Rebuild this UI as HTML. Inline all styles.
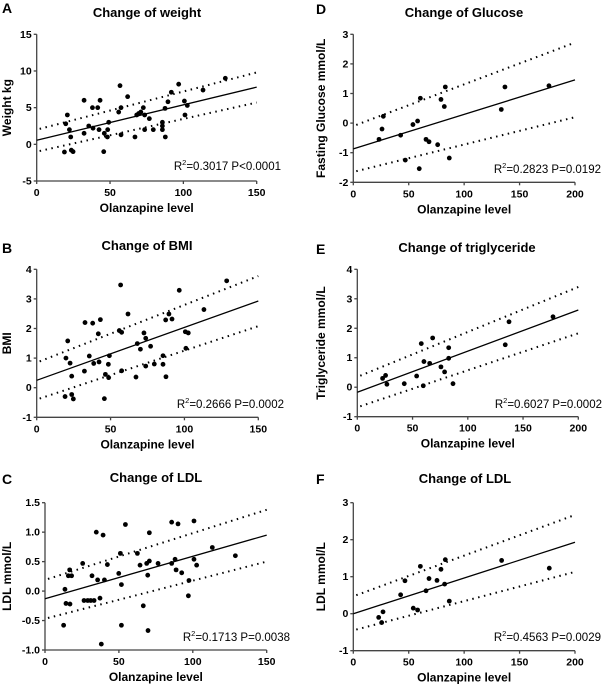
<!DOCTYPE html>
<html><head><meta charset="utf-8"><style>
html,body{margin:0;padding:0;background:#fff;}
svg{display:block;font-family:"Liberation Sans",Arial,sans-serif;}
</style></head><body>
<svg id="fig" width="603" height="685" viewBox="0 0 603 685" xmlns="http://www.w3.org/2000/svg"></svg>
<script>
// ---- Panel A data: weight ----
const aX = [18.9,19.8,20.9,22.3,23.2,23.6,24.8,32.3,32.3,35.5,38,38.4,41.6,42.5,43.2,45.7,46.1,48.2,48.4,49.1,55.9,56.8,57.5,57.5,62,67,68.2,69.5,71,72.7,73.6,73.6,76.8,79.5,85.7,85.7,85.7,87.5,87.7,89.5,91.8,96.8,100.7,101.1,102.7,113.4,128.6];
const aY = [-1.05,2.8,4,2,1,-0.8,-1,6,1.5,2.5,5,2.2,5,2,6,-1,1.5,1,2,3,4.4,8,5,1.3,6.5,1,4,4.2,4.4,5,4,2,3.5,2,3,2.5,2,4.9,1,5.8,7.1,8.2,5.9,4,5.3,7.4,9];
const aFit = [0.55,7.8]; const aUp = [2.0,9.8]; const aLo = [-1.0,5.7];
// ---- Panel B data: BMI ----
const bX = [19.2,19.8,21,22.6,23.7,23.7,24.8,32.3,32.7,35.6,37.9,38.6,41.7,42.2,43.1,45.8,46.5,48.5,48.7,49.2,55.9,56.8,57.5,57.5,61.8,67.2,68.1,70.2,72.6,73.8,73.8,77.1,79.6,85.5,85.5,87.3,87.5,89.5,91.6,96.5,100.6,101,102.6,113.2,128.6];
const bY = [-0.3,1.0,1.58,0.83,0.39,-0.23,-0.38,0.56,2.2,1.07,2.18,0.82,1.82,0.87,2.3,-0.37,0.45,0.79,0.34,1.08,1.93,3.47,1.87,0.57,2.49,0.36,1.49,1.3,1.85,1.67,0.73,1.4,0.8,1.08,0.79,2.29,0.37,2.49,2.32,3.29,1.89,1.33,1.85,2.64,3.61];
const bFit = [0.25,2.93]; const bUp = [0.85,3.77]; const bLo = [-0.4,2.08];
// ---- Panel C data: LDL ----
const cX = [12.6,13.5,14.2,15.8,16.7,16.9,18,25.5,26.4,28.9,30.9,31.8,33.2,34.7,35.6,37.2,38.1,39.3,40.2,42.2,49.9,51,51.7,51.7,54.4,62.5,64.3,66.5,68.8,69.5,69.7,70.6,70.6,76.5,85.7,85.7,88,88.7,90,92.5,97,97.4,100.8,100.8,102.6,113.2,128.8];
const cY = [-0.58,0.03,-0.21,0.26,0.36,-0.22,0.26,0.47,-0.16,-0.16,-0.16,0.26,-0.16,1.0,0.19,-0.12,-0.9,0.95,0.19,0.45,0.3,0.64,0.11,-0.58,1.13,0.64,0.44,-0.25,0.47,0.27,-0.67,0.99,0.51,0.47,0.47,1.17,0.54,0.36,1.14,0.31,-0.08,0.18,1.19,0.54,0.44,0.74,0.6];
const cFit = [-0.13,0.95]; const cUp = [0.19,1.38]; const cLo = [-0.47,0.5];
// ---- Panel D data: glucose ----
const dX = [23.2,25.9,27.1,42.7,46.9,53.8,58,59.5,60.5,65.6,68.3,76.1,79.1,82.1,83,86.6,133.5,136.8,176.5];
const dY = [-0.55,-0.2,0.23,-0.41,-1.25,-0.05,0.07,-1.54,0.84,-0.55,-0.63,-0.73,0.8,0.56,1.22,-1.18,0.46,1.22,1.26];
const dFit = [-0.87,1.46]; const dUp = [-0.1,2.72]; const dLo = [-1.65,0.2];
// ---- Panel E data: triglyceride ----
const eX = [22.9,25.6,26.8,42.5,53.7,57.9,59.7,60.3,65.5,68.2,75.7,79,82.7,82.7,86.6,133.9,137.3,177.1];
const eY = [0.3,0.4,0.1,0.12,0.38,1.48,0.05,0.87,0.81,1.67,0.69,0.52,1.34,0.98,0.12,1.44,2.22,2.39];
const eFit = [-0.17,2.62]; const eUp = [0.35,3.4]; const eLo = [-0.68,1.83];
// ---- Panel F data: LDL ----
const fX = [22.9,25.6,26.8,42.7,46.6,54.1,58,60.5,65.6,68.3,75.5,79.1,82.4,83,86.6,133.8,176.8];
const fY = [-0.1,-0.24,0.05,0.51,0.89,0.15,0.1,1.28,0.62,0.95,0.9,1.2,0.8,1.46,0.34,1.44,1.23];
const fFit = [0,1.93]; const fUp = [0.47,2.67]; const fLo = [-0.45,1.13];
// ---- tick labels ----
const xTicks150 = [0,50,100,150];
const xTicks200 = [0,50,100,150,200];
const aYTicks = [-5,0,5,10,15];
const bYTicks = [-1,0,1,2,3,4];
const cYTicks = ["-1.0","-0.5","0.0","0.5","1.0","1.5"];
const dYTicks = [-2,-1,0,1,2,3];
const eYTicks = [-1,0,1,2,3,4];
const fYTicks = [-1,0,1,2,3];

const NS = "http://www.w3.org/2000/svg";
const svg = document.getElementById('fig');
function mk(tag, attrs, parent, text){
  const e = document.createElementNS(NS, tag);
  for (const k in attrs) e.setAttribute(k, attrs[k]);
  if (text !== undefined) e.textContent = text;
  (parent||svg).appendChild(e); return e;
}
function panel(p){
  const g = mk('g', {});
  
  
  const sx = v => p.x0 + (v - p.xmin) / (p.xmax - p.xmin) * (p.x1 - p.x0);
  const sy = v => p.yb + (v - p.ymin) / (p.ymax - p.ymin) * (p.yt - p.yb);
  let t;
  t = mk('text', {x:p.lx, y:p.ly, 'font-size':14, 'font-weight':'bold'}, g, p.letter);
  
  
  t = mk('text', {x:p.tx, y:p.ty, 'font-size':13, 'font-weight':'bold', 'text-anchor':'middle'}, g, p.title);
  
  
  // axes
  const ax = mk('g', {stroke:'#444', 'stroke-width':1.3, fill:'none'}, g);
  
  
  mk('line', {x1:p.x0, y1:p.yt, x2:p.x0, y2:p.yb}, ax);
  mk('line', {x1:p.x0, y1:p.yb, x2:p.x1, y2:p.yb}, ax);
  p.yticks.forEach(v => {
    const y = sy(parseFloat(v));
    mk('line', {x1:p.x0-3, y1:y, x2:p.x0, y2:y}, ax);
    const tl = mk('text', {x:p.x0-5, y:y+3.5, 'font-size':10.5, 'font-weight':'bold', 'text-anchor':'end'}, g, String(v));
    
    
  });
  p.xticks.forEach(v => {
    const x = sx(v);
    mk('line', {x1:x, y1:p.yb, x2:x, y2:p.yb+3}, ax);
    const tl = mk('text', {x:x, y:p.yb+15, 'font-size':10.5, 'font-weight':'bold', 'text-anchor':'middle'}, g, String(v));
    
    
  });
  t = mk('text', {x:(p.x0+p.x1)/2, y:p.yb+31, 'font-size':12, 'font-weight':'bold', 'text-anchor':'middle'}, g, 'Olanzapine level');
  
  
  const cy = (p.yt+p.yb)/2;
  t = mk('text', {x:p.ylx, y:cy, 'font-size':12, 'font-weight':'bold', 'text-anchor':'middle', transform:'rotate(-90 '+p.ylx+' '+cy+')'}, g, p.ylabel);
  
  
  // CI and fit lines
  const xa = p.xmin + 2*(p.xmax-p.xmin)/150, xb = p.xmax;
  [[p.up,'ci-upper'],[p.lo,'ci-lower']].forEach(([c,n]) => {
    const l = mk('line', {x1:sx(xa), y1:sy(c[0]+(c[1]-c[0])*(xa-p.xmin)/(p.xmax-p.xmin)), x2:sx(xb), y2:sy(c[1]), stroke:'#000', 'stroke-width':2, 'stroke-dasharray':'1.5 4.5', 'stroke-linecap':'butt'}, g);
    
    
  });
  const fl = mk('line', {x1:sx(p.xmin), y1:sy(p.fit[0]), x2:sx(p.xmax), y2:sy(p.fit[1]), stroke:'#000', 'stroke-width':1.3}, g);
  
  
  p.xs.forEach((xv,i) => {
    const c = mk('circle', {cx:sx(xv), cy:sy(p.ys[i]), r:2.4, fill:'#000'}, g);
    
    
  });
  t = mk('text', {x:p.rx, y:p.ry, 'font-size':11.5, 'text-anchor':'end'}, g);
  
  
  mk('tspan', {}, t, 'R');
  mk('tspan', {'font-size':7.5, dy:-5}, t, '2');
  mk('tspan', {dy:5}, t, p.stat);
}
panel({id:'a', letter:'A', lx:2, ly:13, title:'Change of weight', tx:147, ty:17, ylabel:'Weight kg', ylx:11,
  x0:36.7, x1:256.7, xmin:0, xmax:150, yt:34.3, yb:181, ymin:-5, ymax:15, xticks:xTicks150, yticks:aYTicks,
  xs:aX, ys:aY, fit:aFit, up:aUp, lo:aLo, rx:281, ry:170, stat:'=0.3017 P<0.0001'});
panel({id:'b', letter:'B', lx:2, ly:253, title:'Change of BMI', tx:147, ty:250, ylabel:'BMI', ylx:11,
  x0:36.7, x1:258.3, xmin:0, xmax:150, yt:269.3, yb:417.3, ymin:-1, ymax:4, xticks:xTicks150, yticks:bYTicks,
  xs:bX, ys:bY, fit:bFit, up:bUp, lo:bLo, rx:284, ry:408, stat:'=0.2666 P=0.0002'});
panel({id:'c', letter:'C', lx:2, ly:484, title:'Change of LDL', tx:156, ty:482, ylabel:'LDL mmol/L', ylx:11,
  x0:45, x1:266.7, xmin:0, xmax:150, yt:502.7, yb:650, ymin:-1, ymax:1.5, xticks:xTicks150, yticks:cYTicks,
  xs:cX, ys:cY, fit:cFit, up:cUp, lo:cLo, rx:290, ry:641, stat:'=0.1713 P=0.0038'});
panel({id:'d', letter:'D', lx:316, ly:14, title:'Change of Glucose', tx:464, ty:17, ylabel:'Fasting Glucose mmol/L', ylx:325,
  x0:353.3, x1:575, xmin:0, xmax:200, yt:34.3, yb:182.3, ymin:-2, ymax:3, xticks:xTicks200, yticks:dYTicks,
  xs:dX, ys:dY, fit:dFit, up:dUp, lo:dLo, rx:601, ry:173, stat:'=0.2823 P=0.0192'});
panel({id:'e', letter:'E', lx:316, ly:254, title:'Change of triglyceride', tx:467, ty:252, ylabel:'Triglyceride mmol/L', ylx:325,
  x0:357.3, x1:578.3, xmin:0, xmax:200, yt:269.3, yb:416.7, ymin:-1, ymax:4, xticks:xTicks200, yticks:eYTicks,
  xs:eX, ys:eY, fit:eFit, up:eUp, lo:eLo, rx:602, ry:408, stat:'=0.6027 P=0.0002'});
panel({id:'f', letter:'F', lx:316, ly:484, title:'Change of LDL', tx:465, ty:483, ylabel:'LDL mmol/L', ylx:325,
  x0:353.3, x1:575, xmin:0, xmax:200, yt:502.7, yb:650.7, ymin:-1, ymax:3, xticks:xTicks200, yticks:fYTicks,
  xs:fX, ys:fY, fit:fFit, up:fUp, lo:fLo, rx:601, ry:641, stat:'=0.4563 P=0.0029'});
</script>
</body></html>
